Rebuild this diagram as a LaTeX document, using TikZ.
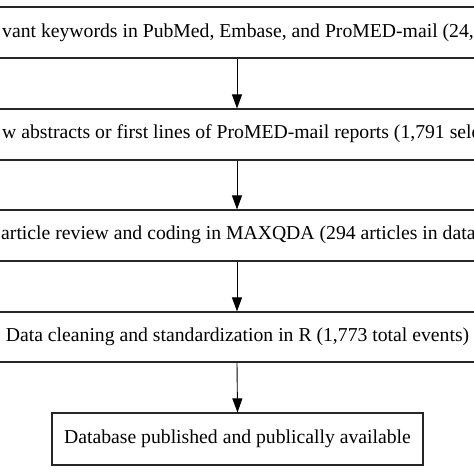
\documentclass[tikz,border=0pt]{standalone}
\usepackage{fontspec}
\setmainfont{Liberation Serif}
\usetikzlibrary{arrows.meta}
\begin{document}
\begin{tikzpicture}[x=1pt,y=1pt,
  flowbox/.style={draw=black!85, line width=1.1pt, minimum height=51pt, inner sep=0pt},
  widebox/.style={flowbox, minimum width=520pt},
  lbl/.style={inner sep=0pt, font=\fontsize{19.7}{22}\selectfont, text=black},
  flowarrow/.style={draw=black, line width=0.9pt, -{Triangle[width=10pt,length=14pt]}}]
\useasboundingbox (0,0) rectangle (474,474);
\clip (0,0) rectangle (474,474);
\fill[white] (0,0) rectangle (474,474);
\node[widebox] (b1) at (237,441.5) {};
\node[widebox] (b2) at (237,339.5) {};
\node[widebox] (b3) at (237,238.5) {};
\node[widebox, minimum height=50pt] (b4) at (237,137) {};
\node[flowbox, minimum width=371pt, minimum height=52pt] (b5) at (237.5,35) {};
\node[lbl, anchor=west] (t1) at (2,441.5) {vant keywords in PubMed, Embase, and ProMED-mail (24,};
\node[lbl, anchor=west] (t2) at (2,340.5) {w abstracts or first lines of ProMED-mail reports (1,791 sele};
\node[lbl, anchor=west] (t3) at (1,239.5) {article review and coding in MAXQDA (294 articles in data};
\node[lbl] (t4) at (237.5,137) {Data cleaning and standardization in R (1,773 total events)};
\node[lbl] (t5) at (237.5,35) {Database published and publically available};
\draw[flowarrow] (b1.south) -- (b2.north);
\draw[flowarrow] (b2.south) -- (b3.north);
\draw[flowarrow] (b3.south) -- (b4.north);
\draw[flowarrow] (b4.south) -- (b5.north);
\end{tikzpicture}
\end{document}
